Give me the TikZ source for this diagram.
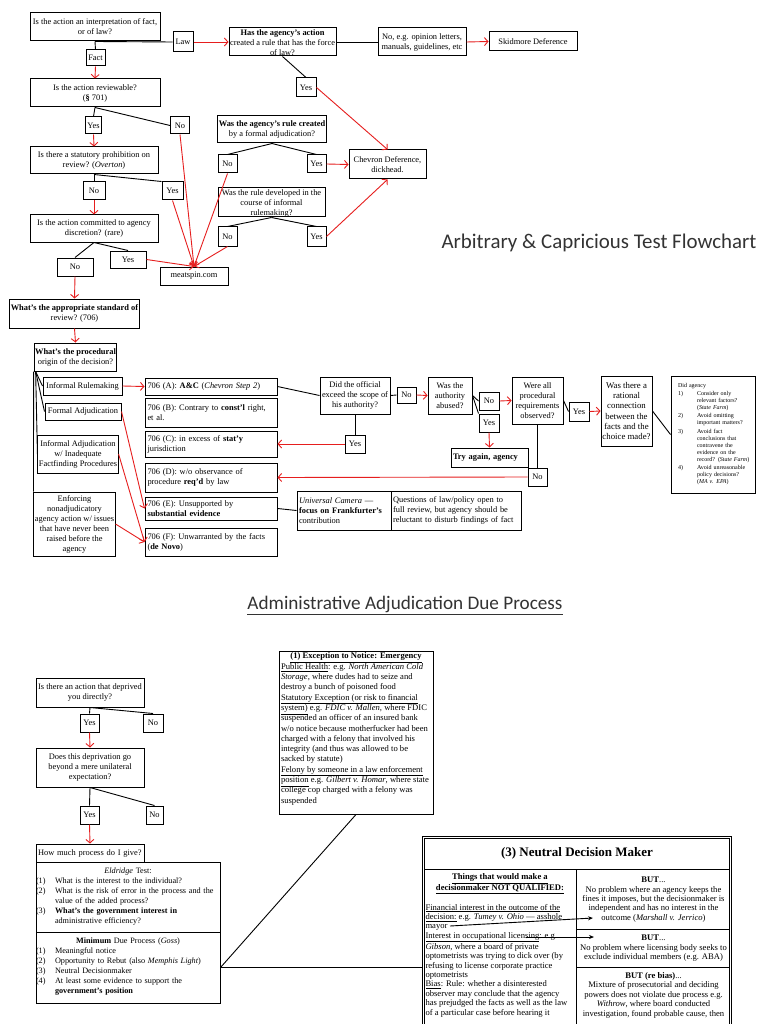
\documentclass[tikz,border=0pt]{standalone}
\usepackage{fontspec}
\setmainfont{Liberation Serif}
\newfontfamily\headfont{Carlito}
\usetikzlibrary{arrows.meta}
\definecolor{flowred}{RGB}{230,30,30}

\begin{document}
\begin{tikzpicture}[
    x=1pt, y=-1pt,
    every node/.style={draw, line width=1pt, fill=white, inner sep=1pt, align=center, font=\fontsize{8.4}{10}\selectfont},
    sz/.style 2 args={minimum width=#1pt, minimum height=#2pt},
    small/.style={font=\fontsize{6}{7}\selectfont},
    note/.style={font=\fontsize{8.6}{9.4}\selectfont},
    heading/.style={draw=none, fill=none, text=black!80, font=\headfont\fontsize{20.9}{24}\selectfont},
    link/.style={draw=black, line width=0.9pt},
    arrow/.style={-{Straight Barb[length=3.5pt,width=8pt]}, line width=0.9pt, draw=flowred},
    pointer/.style={-{Stealth[length=5pt,width=4pt]}, line width=0.9pt, draw=black}
]
\useasboundingbox (0,0) rectangle (768,1024);
\clip (0,0) rectangle (768,1024);
\fill[white] (0,0) rectangle (768,1024);

\node[sz={130}{28}] (interp) at (95,27) {Is the action an interpretation of fact,\\ or of law?};
\node[sz={20}{20}] (law) at (183,42) {Law};
\node[sz={19}{16}] (fact) at (95.5,58) {Fact};
\node[sz={130}{28}] (review) at (95,93) {Is the action reviewable?\\ (\textbf{\S} 701)};
\node[sz={16}{17}] (reviewyes) at (93.5,125.5) {Yes};
\node[sz={19}{17}] (reviewno) at (180,125.5) {No};
\node[sz={128}{27}] (prohibit) at (94,160.5) {Is there a statutory prohibition on\\ review? (\textit{Overton})};
\node[sz={22}{18}] (prohibitno) at (94,191) {No};
\node[sz={21}{18}] (prohibityes) at (172.5,191) {Yes};
\node[sz={128}{27}] (discretion) at (94,228.5) {Is the action committed to agency\\ discretion? (rare)};
\node[sz={36}{18}] (discretionno) at (75,267) {No};
\node[sz={36}{17}] (discretionyes) at (128,259.5) {Yes};
\node[sz={68}{18}] (meatspin) at (194,276) {meatspin.com};

\node[sz={107}{28}] (force) at (282.5,42) {\parbox[c][24pt][t]{105pt}{\centering\textbf{Has the agency's action}\\ created a rule that has the force\\ of law?}};
\node[sz={88}{28}] (guidance) at (422,42) {No, e.g. opinion letters,\\ manuals, guidelines, etc};
\node[sz={88}{19}] (skidmore) at (533,41.5) {Skidmore Deference};
\node[sz={20}{19}] (forceyes) at (306,87.5) {Yes};
\node[sz={77}{29}] (chevron) at (387.5,164.5) {Chevron Deference,\\ dickhead.};
\node[sz={108}{27}] (formal) at (272,129.5) {\textbf{Was the agency's rule created}\\ by a formal adjudication?};
\node[sz={19}{18}] (formalno) at (227.5,164) {No};
\node[sz={19}{18}] (formalyes) at (316.5,164) {Yes};
\node[sz={107}{29}] (informal) at (271.5,202.5) {\parbox[c][25pt][t]{105pt}{\centering Was the rule developed in the\\ course of informal\\ rulemaking?}};
\node[sz={19}{19}] (informalno) at (227.5,236.5) {No};
\node[sz={19}{19}] (informalyes) at (316.5,236.5) {Yes};

\node[heading] (actitle) at (599,243) {Arbitrary \& Capricious Test Flowchart};

\node[sz={121}{29}] (standard) at (74.5,313.5) {\textbf{What's the appropriate standard of}\\ review? (706)};
\node[sz={81}{28}] (origin) at (75.5,357) {\textbf{What's the procedural}\\ origin of the decision?};
\node[sz={79}{18}] (rulemaking) at (82.5,386) {Informal Rulemaking};
\node[sz={76}{17}] (adjudication) at (83,411.5) {Formal Adjudication};
\node[sz={80}{38}] (factfinding) at (78,454) {Informal Adjudication\\ w/ Inadequate\\ Factfinding Procedures};
\node[sz={79}{64}] (enforcing) at (74.5,524) {Enforcing\\ nonadjudicatory\\ agency action w/ issues\\ that have never been\\ raised before the\\ agency};

\node[sz={132}{17}, text width=127pt, align=left] (arbitrary) at (211,386.5) {706 (A): \textbf{A\&C} (\textit{Chevron Step 2})};
\node[sz={132}{29}, text width=127pt, align=left] (contrary) at (211,412.5) {706 (B): Contrary to \textbf{const'l} right,\\ et al.};
\node[sz={132}{26}, text width=127pt, align=left] (excess) at (211,444) {706 (C): in excess of \textbf{stat'y}\\ jurisdiction};
\node[sz={132}{29}, text width=127pt, align=left] (procedure) at (211,477.5) {706 (D): w/o observance of\\ procedure \textbf{req'd} by law};
\node[sz={132}{23}, text width=127pt, align=left] (substantial) at (211,508.5) {706 (E): Unsupported by\\ \textbf{substantial evidence}};
\node[sz={132}{28}, text width=127pt, align=left] (denovo) at (211,542) {706 (F): Unwarranted by the facts\\ (\textbf{de Novo})};

\node[sz={70}{37}] (official) at (355,395.5) {Did the official\\ exceed the scope of\\ his authority?};
\node[sz={19}{16}] (officialno) at (406.5,395) {No};
\node[sz={20}{18}] (officialyes) at (355,444) {Yes};
\node[sz={44}{37}] (abused) at (450,395.5) {Was the\\ authority\\ abused?};
\node[sz={20}{18}] (abusedno) at (489,401) {No};
\node[sz={20}{18}] (abusedyes) at (489,423) {Yes};
\node[sz={77}{19}, text width=73pt, align=left] (tryagain) at (489.5,457.5) {\textbf{Try again, agency}};
\node[sz={51}{47}] (observed) at (537.5,400.5) {Were all\\ procedural\\ requirements\\ observed?};
\node[sz={19}{18}] (observedno) at (537.5,477) {No};
\node[sz={20}{19}] (observedyes) at (579,411.5) {Yes};
\node[sz={51}{70}, font=\fontsize{8.8}{10.3}\selectfont] (rational) at (626.5,411) {Was there a\\ rational\\ connection\\ between the\\ facts and the\\ choice made?};
\node[sz={84}{117}, small, text width=70pt, align=left, inner xsep=7pt] (agency) at (713,434.5) {Did agency\\
\begin{tabular}{@{}p{19pt}@{}l@{}}
1) & Consider only\\ & relevant factors?\\ & (\textit{State Farm})\\[1pt]
2) & Avoid omitting\\ & important matters?\\[2pt]
3) & Avoid fact\\ & conclusions that\\ & contravene the\\ & evidence on the\\ & record? (\textit{State Farm})\\[1pt]
4) & Avoid unreasonable\\ & policy decisions?\\ & (\textit{MA v. EPA})
\end{tabular}};
\node[sz={94}{39}, text width=90pt, align=left] (camera) at (344,510.5) {\textit{Universal Camera} ---\\ \textbf{focus on Frankfurter's}\\ contribution};
\node[sz={130}{39}, text width=126pt, align=left] (deference) at (456,510.5) {Questions of law/policy open to\\ full review, but agency should be\\ reluctant to disturb findings of fact};

\node[heading, font=\headfont\fontsize{19.2}{23}\selectfont] (dptitle) at (405,605) {\underline{Administrative Adjudication Due Process}};

\node[sz={108}{29}] (deprived) at (90,692.5) {Is there an action that deprived\\ you directly?};
\node[sz={19}{18}] (deprivedyes) at (89.5,723) {Yes};
\node[sz={20}{18}] (deprivedno) at (153,723) {No};
\node[sz={108}{39}] (unilateral) at (90,767.5) {Does this deprivation go\\ beyond a mere unilateral\\ expectation?};
\node[sz={19}{18}] (unilateralyes) at (89.5,815) {Yes};
\node[sz={17}{18}] (unilateralno) at (154.5,815) {No};
\node[sz={108}{18}, text width=104pt, align=left] (howmuch) at (90,853) {How much process do I give?};
\node[sz={184}{70}, text width=184pt, inner xsep=0pt, font=\fontsize{8.2}{10}\selectfont] (eldridge) at (128,897) {\textit{Eldridge} Test:\\
\begin{tabular}{@{}p{19pt}@{}p{165pt}@{}}
(1) & What is the interest to the individual?\\
(2) & What is the risk of error in the process and the\newline value of the added process?\\
(3) & \textbf{What's the government interest in}\newline administrative efficiency?
\end{tabular}};
\node[sz={184}{71}, text width=184pt, inner xsep=0pt, font=\fontsize{8.2}{10}\selectfont] (minimum) at (128,967.5) {\textbf{Minimum} Due Process (\textit{Goss})\\
\begin{tabular}{@{}p{19pt}@{}p{165pt}@{}}
(1) & Meaningful notice\\
(2) & Opportunity to Rebut (also \textit{Memphis Light})\\
(3) & Neutral Decisionmaker\\
(4) & At least some evidence to support the\newline \textbf{government's position}
\end{tabular}};

\node[sz={154}{163}, font=\fontsize{8.6}{10.3}\selectfont] (emergency) at (356,732.5) {\parbox[c][159pt][t]{150pt}{\raggedright
{\centering\textbf{\underline{(1) Exception to Notice: Emergency}}\par}
\underline{Public Health}: e.g. \textit{North American Cold}\\
\textit{Storage}, where dudes had to seize and\\
destroy a bunch of poisoned food\\
\underline{Statutory Exception (or risk to financial}\\
\underline{system)} e.g. \textit{FDIC v. Mallen}, where FDIC\\
suspended an officer of an insured bank\\
w/o notice because motherfucker had been\\
charged with a felony that involved his\\
integrity (and thus was allowed to be\\
sacked by statute)\\
\underline{Felony by someone in a law enforcement}\\
\underline{position} e.g. \textit{Gilbert v. Homar}, where state\\
college cop charged with a felony was\\
suspended}};

\node[sz={307}{32}, anchor=north west, font=\bfseries\fontsize{13}{15}\selectfont] (neutraltitle) at (423,837) {(3) Neutral Decision Maker};
\node[sz={153}{190}, anchor=north west, note] (disqualify) at (423,869) {\parbox[c][186pt][t]{149pt}{\vspace*{2pt}{\centering\textbf{\underline{Things that would make a}}\\ \textbf{\underline{decisionmaker NOT QUALIFIED:}}\par}
\vspace{9.4pt}\raggedright
\underline{Financial interest in the outcome of the}\\
\underline{decision:} e.g. \textit{Tumey v. Ohio} --- asshole\\
mayor\\
\underline{Interest in occupational licensing}: e.g.\\
\textit{Gibson}, where a board of private\\
optometrists was trying to dick over (by\\
refusing to license corporate practice\\
optometrists\\
\underline{Bias}: Rule: whether a disinterested\\
observer may conclude that the agency\\
has prejudged the facts as well as the law\\
of a particular case before hearing it}};
\node[sz={154}{60}, anchor=north west, note] (finesbut) at (576,869) {\textbf{BUT}...\\ No problem where an agency keeps the\\ fines it imposes, but the decisionmaker is\\ independent and has no interest in the\\ outcome (\textit{Marshall v. Jerrico})};
\node[sz={154}{38}, anchor=north west, note] (licensebut) at (576,929) {\textbf{BUT}...\\ No problem where licensing body seeks to\\ exclude individual members (e.g. ABA)};
\node[sz={154}{80}, anchor=north west, note] (biasbut) at (576,967) {\parbox[c][76pt][t]{150pt}{\vspace*{3pt}\centering\textbf{BUT (re bias)}...\\ Mixture of prosecutorial and deciding\\ powers does not violate due process e.g.\\ \textit{Withrow}, where board conducted\\ investigation, found probable cause, then}};
\node[sz={307}{210}, anchor=north west, fill=none, double, double distance=1.2pt, line width=0.7pt] (neutral) at (423,837) {};
\coordinate (mayor) at (450,926);
\coordinate (jerrico) at (593,918);
\coordinate (licensing) at (526,937);
\coordinate (licensebutword) at (594,937);

\draw[link] (interp.south) -- (fact.north);
\draw[link] (interp.south) -- (law.west);
\draw[arrow] (law.east) -- (force.west);
\draw[arrow] (fact.south) -- (review.north);
\draw[link] (review.south) -- (reviewyes.north);
\draw[link] (review.south) -- (reviewno.west);
\draw[arrow] (reviewyes.south) -- (prohibit.north);
\draw[arrow] (reviewno.south) -- (meatspin.north);
\draw[link] (prohibit.south) -- (prohibitno.north);
\draw[link] (prohibit.south) -- (prohibityes.north west);
\draw[arrow] (prohibitno.south) -- (discretion.north);
\draw[arrow] (prohibityes.south) -- (meatspin.north);
\draw[link] (discretion.south) -- (discretionno.north);
\draw[link] (discretion.south) -- (discretionyes.north);
\draw[arrow] (discretionyes.east) -- (meatspin.north);
\draw[arrow] (discretionno.south) -- (standard.north);

\draw[link] (force.east) -- (guidance.west);
\draw[arrow] (guidance.east) -- (skidmore.west);
\draw[link] (force.south) -- (forceyes.north);
\draw[arrow] (forceyes.east) -- (chevron.north);
\draw[link] (formal.south) -- (formalno.north);
\draw[link] (formal.south) -- (formalyes.north);
\draw[arrow] (formalyes.east) -- (chevron.west);
\draw[arrow] (formalno.south) -- (meatspin.north);
\draw[link] (informal.south) -- (informalno.north);
\draw[link] (informal.south) -- (informalyes.north);
\draw[arrow] (informalyes.east) -- (chevron.south);
\draw[arrow] (informalno.south) -- (meatspin.north);

\draw[arrow] (standard.south) -- (origin.north);
\foreach \b in {rulemaking, adjudication, factfinding}
    \draw[link] ([xshift=2pt]origin.south west) -- (\b.west);
\draw[link] (origin.south west) -- (enforcing.north west);
\draw[arrow] (rulemaking.east) -- (arbitrary.west);
\draw[arrow] (adjudication.east) -- (substantial.west);
\draw[arrow] (factfinding.east) -- (denovo.west);
\draw[arrow] (enforcing.east) -- (denovo.west);
\draw[link] (arbitrary.east) -- (official.west);
\draw[link] (official.east) -- (officialno.west);
\draw[arrow] (officialno.east) -- (abused.west);
\draw[link] (abused.east) -- (abusedno.west);
\draw[link] (abused.east) -- (abusedyes.north west);
\draw[arrow] (abusedno.east) -- (observed.west);
\draw[arrow] (abusedyes.south) -- (tryagain.north);
\draw[link] (official.south) -- (officialyes.north);
\draw[arrow] (officialyes.west) -- (excess.east);
\draw[link] (observed.south) -- (observedno.north);
\draw[arrow] (observedno.west) -- (procedure.east);
\draw[link] (substantial.east) -- (camera.west);
\draw[link] (observed.east) -- (observedyes.west);
\draw[arrow] (observedyes.east) -- (rational.west);
\draw[link] (rational.east) -- (agency.west);

\draw[link] (deprived.south) -- (deprivedyes.north);
\draw[link] (deprived.south) -- (deprivedno.north);
\draw[arrow] (deprivedyes.south) -- (unilateral.north);
\draw[link] (unilateral.south) -- (unilateralyes.north);
\draw[link] (unilateral.south) -- (unilateralno.north);
\draw[arrow] (unilateralyes.south) -- (howmuch.north);
\draw[link] (minimum.east) -- (emergency.south);
\draw[link] (minimum.east) -- (minimum.east -| neutral.west);
\draw[pointer] (mayor) -- (jerrico);
\draw[pointer] (licensing) -- (licensebutword);

\end{tikzpicture}
\end{document}
